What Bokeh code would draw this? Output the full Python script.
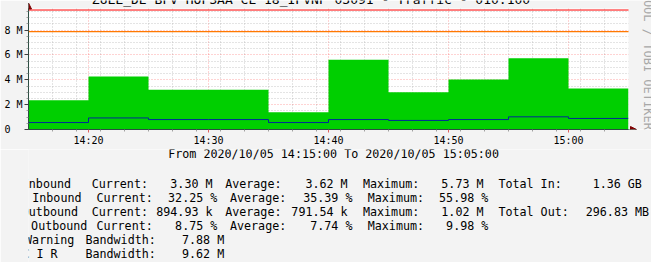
import math
import pandas as pd
from bokeh.plotting import figure
from bokeh.layouts import column
from bokeh.models import (FixedTicker, Span, Label, DatetimeTickFormatter, Range1d,
                          Arrow, NormalHead, BoxAnnotation)
from bokeh.embed import file_html
from bokeh.resources import INLINE

# ---------------- data ----------------
day = "2020-10-05"
interval_starts = ["14:15", "14:20", "14:25", "14:30", "14:35",
                   "14:40", "14:45", "14:50", "14:55", "15:00"]
period_end = "15:05"
inbound_m = [2.35, 4.26, 3.20, 3.20, 1.39, 5.62, 3.00, 4.02, 5.73, 3.30]
outbound_m = [0.56, 0.93, 0.80, 0.80, 0.56, 0.80, 0.73, 0.80, 1.02, 0.89]
warning_bw = 7.88
cir_bw = 9.62
x_major_ticks = ["14:20", "14:30", "14:40", "14:50", "15:00"]
y_major_ticks = [0, 2, 4, 6, 8]
y_tick_labels = ["0\u00a0\u00a0", "2 M", "4 M", "6 M", "8 M"]

title_text = "ZULL_DE BFV HOPSAA CE 18_IPVNF 03091 - Traffic - 010.100"
period_text = "From 2020/10/05 14:15:00 To 2020/10/05 15:05:00"
watermark = "RRDTOOL / TOBI OETIKER"

legend_names = ["Inbound", "% Inbound", "Outbound", "% Outbound", "Warning", "C I R"]
legend_current = ["3.30 M", "32.25 %", "894.93 k", "8.75 %"]
legend_average = ["3.62 M", "35.39 %", "791.54 k", "7.74 %"]
legend_maximum = ["5.73 M", "55.98 %", "1.02 M", "9.98 %"]
total_labels = ["Total In:", "Total Out:"]
total_values = ["1.36 GB", "296.83 MB"]
bandwidth_values = ["7.88 M", "9.62 M"]

# ---------------- layout ----------------
W, H = 651, 262
PL, PR, PB = 28, 628, 129            # plot area edges in canvas pixels
PX_PER_M = 12.42                     # vertical scale
H_TOP = 149                          # height of the chart figure
MONO = "DejaVu Sans Mono"
BG = "#F3F3F3"
LEG_SIZE = "11.7px"

def ts(hm):
    return pd.Timestamp(f"{day} {hm}")

def ms(hm):
    return ts(hm).value / 1e6

t0, t1 = ms(interval_starts[0]), ms(period_end)
ms_per_px = (t1 - t0) / (PR - PL)

def xd(px):
    return t0 + (px - PL) * ms_per_px

def yd(py):
    return (PB - py) / PX_PER_M

Y_TOP = yd(8)                        # value at the plot-area top

edges = [ts(t) for t in interval_starts] + [ts(period_end)]
in_steps = inbound_m + [inbound_m[-1]]
out_steps = outbound_m + [outbound_m[-1]]

# chart figure: frame spans canvas x 28..651, y 0..129
p = figure(width=W, height=H_TOP, x_axis_type="datetime", output_backend="svg",
           toolbar_location=None,
           x_range=Range1d(t0, xd(W)), y_range=Range1d(0, yd(0)),
           min_border_left=PL, min_border_right=0,
           min_border_top=0, min_border_bottom=H_TOP - PB)
p.background_fill_color = "#FFFFFF"
p.border_fill_color = BG
p.outline_line_color = None

minor_x = [t0 + k * 120000 for k in range(1, 25)]
major_x = [ms(t) for t in x_major_ticks]
minor_x = [v for v in minor_x if v not in major_x]
xt = FixedTicker(ticks=major_x, minor_ticks=minor_x)
minor_y = [k * 0.5 for k in range(1, 20) if (k * 0.5) % 2 != 0]
yt = FixedTicker(ticks=y_major_ticks, minor_ticks=minor_y)

p.xaxis.ticker = xt
p.yaxis.ticker = yt
p.xgrid.ticker = xt
p.ygrid.ticker = yt
for g in (p.xgrid, p.ygrid):
    g.grid_line_color = "#FF0000"
    g.grid_line_alpha = 0.35
    g.grid_line_dash = "1 2"
    g.minor_grid_line_color = "#B0B0B0"
    g.minor_grid_line_alpha = 0.7
    g.minor_grid_line_dash = "1 2"

fmt = "%H:%M"
p.xaxis.formatter = DatetimeTickFormatter(minutes=fmt, hourmin=fmt, hours=fmt,
                                          minsec=fmt, seconds=fmt, context=None)
p.yaxis.major_label_overrides = {v: s for v, s in zip(y_major_ticks, y_tick_labels)}
p.xaxis.bounds = (t0, t1)
p.yaxis.bounds = (0, Y_TOP)

for ax in (p.xaxis[0], p.yaxis[0]):
    ax.axis_line_color = "#2C4D43"
    ax.major_label_text_font = MONO
    ax.major_label_text_font_size = "10px"
    ax.major_label_text_color = "#000000"
    ax.major_tick_in = 0
    ax.minor_tick_in = 0
    ax.minor_tick_out = 2
    ax.minor_tick_line_color = "#A0A0A0"
p.xaxis.major_tick_out = 3
p.xaxis.major_tick_line_color = "#E06060"
p.xaxis.major_label_standoff = 2
p.yaxis.major_tick_out = 4
p.yaxis.major_tick_line_color = "#404040"
p.yaxis.major_label_standoff = 2

# data marks
p.varea_step(x=edges, y1=[0] * len(edges), y2=in_steps, step_mode="after",
             fill_color="#00CF00")
p.step(x=edges, y=out_steps, mode="after", line_color="#002A97", line_width=1)
p.add_layout(Span(location=warning_bw, dimension="width", line_color="#FF7A00", line_width=1.2))
p.add_layout(Span(location=cir_bw, dimension="width", line_color="#FF0000", line_width=1))

# gray strips outside the plot area (inside the frame)
p.add_layout(BoxAnnotation(bottom=Y_TOP, fill_color=BG, fill_alpha=1, line_color=None))
p.add_layout(BoxAnnotation(left=t1, fill_color=BG, fill_alpha=1, line_color=None))

# axis arrows
head = dict(size=6, fill_color="#7F0000", line_color="#7F0000")
p.add_layout(Arrow(end=NormalHead(**head), x_start=t0, y_start=0, x_end=t0, y_end=yd(2.5),
                   line_color="#2C4D43", line_width=1))
p.add_layout(Arrow(end=NormalHead(**head), x_start=t0, y_start=0, x_end=xd(636), y_end=0,
                   line_color="#2C4D43", line_width=1))

def lab(fig, text, x, y, size=LEG_SIZE, align="left", color="#000000", angle=0.0):
    fig.add_layout(Label(x=x, y=y, text=text, text_font=MONO,
                         text_font_size=size, text_align=align,
                         text_baseline="middle", text_color=color, angle=angle))

lab(p, title_text, xd(310.5), yd(-0.8), size="13px", align="center")
lab(p, watermark, xd(647.4), yd(-29.5), size="12px", color="#A8A8A8", angle=-math.pi / 2)

# legend figure: canvas y 149..262, coordinates in canvas pixels
q = figure(width=W, height=H - H_TOP, output_backend="svg", toolbar_location=None,
           x_range=Range1d(0, W), y_range=Range1d(H, H_TOP),
           x_axis_location=None, y_axis_location=None,
           min_border=0, min_border_left=0, min_border_right=0,
           min_border_top=0, min_border_bottom=0)
q.background_fill_color = BG
q.border_fill_color = BG
q.outline_line_color = None
q.grid.visible = False

lab(q, period_text, 146, 153.7)
rows_y = [183, 197, 211, 225, 239, 253]
name_x = [-7.0, -10.8, -7.0, -12.0, -3.6, -6.3]
for name, x, y in zip(legend_names, name_x, rows_y):
    lab(q, name, x, y)
for i in range(4):
    shift = 0 if i % 2 == 0 else 5
    y = rows_y[i]
    lab(q, "Current:", 66 + shift, y)
    lab(q, legend_current[i], 192.3 + shift, y, align="right")
    lab(q, "Average:", 205.5 + shift, y)
    lab(q, legend_average[i], 333.5 + shift, y, align="right")
    lab(q, "Maximum:", 349.5 + shift, y)
    lab(q, legend_maximum[i], 475.5 + shift, y, align="right")
for j, (tl, tv) in enumerate(zip(total_labels, total_values)):
    y = rows_y[2 * j]
    lab(q, tl, 491, y)
    lab(q, tv, 589.5 - 7.2 * j, y)
for k, bv in enumerate(bandwidth_values):
    y = rows_y[4 + k]
    lab(q, "Bandwidth:", 59.5, y)
    lab(q, bv, 204.5, y, align="right")

layout = column(p, q, spacing=0)
open("out.html", "w").write(file_html(layout, INLINE))
